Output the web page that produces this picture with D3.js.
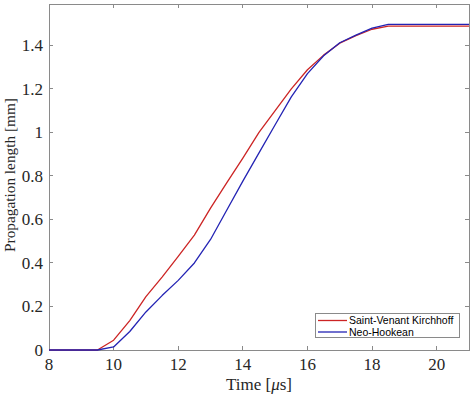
<!DOCTYPE html>
<html>
<head>
<meta charset="utf-8">
<script src="https://cdn.jsdelivr.net/npm/d3@7"></script>
<style>
  body { margin: 0; background: #fff; }
</style>
</head>
<body>
<svg id="chart" width="474" height="395"></svg>
<script>
// time axis, microseconds
const time = [8, 8.5, 9, 9.5, 10, 10.5, 11, 11.5, 12, 12.5, 13, 13.5, 14, 14.5, 15, 15.5,
              16, 16.5, 17, 17.5, 18, 18.5, 19, 19.5, 20, 20.5, 21];
// propagation length, mm
const saintVenant = [0, 0, 0, 0, 0.045, 0.135, 0.245, 0.335, 0.43, 0.528, 0.652, 0.768, 0.882,
                     1.0, 1.1, 1.2, 1.288, 1.355, 1.41, 1.445, 1.474, 1.488, 1.488, 1.488,
                     1.488, 1.488, 1.488];
const neoHookean = [0, 0, 0, 0, 0.014, 0.085, 0.175, 0.25, 0.32, 0.4, 0.508, 0.642, 0.776,
                    0.906, 1.035, 1.163, 1.27, 1.352, 1.412, 1.447, 1.479, 1.496, 1.496, 1.496,
                    1.496, 1.496, 1.496];
const seriesNames = ['Saint-Venant Kirchhoff', 'Neo-Hookean'];
const seriesColors = ['#cc2424', '#2323b4'];
const xTicks = [8, 10, 12, 14, 16, 18, 20];
const yTicks = [0, 0.2, 0.4, 0.6, 0.8, 1, 1.2, 1.4];

function translate(x, y) {
    return `translate(${x},${y})`;
}

let svg = d3.select('#chart');

let m = {left: 49, right: 469, top: 4, bottom: 350};
let axisColor = '#8a8a8a';
let textColor = '#262626';
let tickLen = 4;

let x = d3.scaleLinear().domain([8, 21]).range([m.left, m.right]);
let y = d3.scaleLinear().domain([0, 1.59]).range([m.bottom, m.top]);

// box
svg.append('rect')
    .attr('x', m.left)
    .attr('y', m.top)
    .attr('width', m.right - m.left)
    .attr('height', m.bottom - m.top)
    .attr('fill', 'none')
    .attr('stroke', axisColor)
    .attr('stroke-width', 1)
    .style('shape-rendering', 'crispEdges');

// inward ticks, mirrored on top and right
let ticks = svg.append('g')
    .attr('stroke', axisColor)
    .style('shape-rendering', 'crispEdges');

xTicks.forEach(t => {
    ticks.append('line').attr('x1', x(t)).attr('x2', x(t)).attr('y1', m.bottom).attr('y2', m.bottom - tickLen);
    ticks.append('line').attr('x1', x(t)).attr('x2', x(t)).attr('y1', m.top).attr('y2', m.top + tickLen);
});
yTicks.forEach(t => {
    ticks.append('line').attr('x1', m.left).attr('x2', m.left + tickLen).attr('y1', y(t)).attr('y2', y(t));
    ticks.append('line').attr('x1', m.right).attr('x2', m.right - tickLen).attr('y1', y(t)).attr('y2', y(t));
});

let labels = svg.append('g')
    .style('font-family', '"Liberation Serif", "Times New Roman", serif')
    .style('font-size', '17px')
    .attr('fill', textColor);

labels.selectAll('text.xtick')
    .data(xTicks)
    .enter()
    .append('text')
    .attr('class', 'xtick')
    .attr('x', d => x(d))
    .attr('y', m.bottom + 20)
    .attr('text-anchor', 'middle')
    .text(d => d);

labels.selectAll('text.ytick')
    .data(yTicks)
    .enter()
    .append('text')
    .attr('class', 'ytick')
    .attr('x', m.left - 6)
    .attr('y', d => y(d))
    .attr('dy', '0.34em')
    .attr('text-anchor', 'end')
    .text(d => d3.format('~g')(d));

// axis titles
let xt = labels.append('text')
    .attr('x', (m.left + m.right) / 2)
    .attr('y', 390)
    .attr('text-anchor', 'middle');
xt.append('tspan').text('Time [');
xt.append('tspan').style('font-style', 'italic').text('μ');
xt.append('tspan').text('s]');

labels.append('text')
    .attr('transform', translate(15, 175) + ' rotate(-90)')
    .attr('text-anchor', 'middle')
    .style('font-size', '15.3px')
    .text('Propagation length [mm]');

// curves
let line = d3.line()
    .x((d, i) => x(time[i]))
    .y(d => y(d));

[saintVenant, neoHookean].forEach((s, k) => {
    svg.append('path')
        .datum(s)
        .attr('d', line)
        .attr('fill', 'none')
        .attr('stroke', seriesColors[k])
        .attr('stroke-width', 1.3)
        .attr('stroke-linejoin', 'round');
});

// legend
let lg = svg.append('g').attr('transform', translate(315, 313));
lg.append('rect')
    .attr('width', 144)
    .attr('height', 24)
    .attr('fill', '#fff')
    .attr('stroke', axisColor)
    .style('shape-rendering', 'crispEdges');

let items = lg.selectAll('g.item')
    .data(seriesNames)
    .enter()
    .append('g')
    .attr('class', 'item')
    .attr('transform', (d, i) => translate(0, 7.5 + i * 11.5));

items.append('line')
    .attr('x1', 3)
    .attr('x2', 32)
    .attr('stroke', (d, i) => seriesColors[i])
    .attr('stroke-width', 1.3);

items.append('text')
    .attr('x', 34)
    .attr('dy', '0.35em')
    .style('font-family', '"Liberation Sans", Arial, sans-serif')
    .style('font-size', '10.5px')
    .attr('fill', '#000')
    .text(d => d);
</script>
</body>
</html>
